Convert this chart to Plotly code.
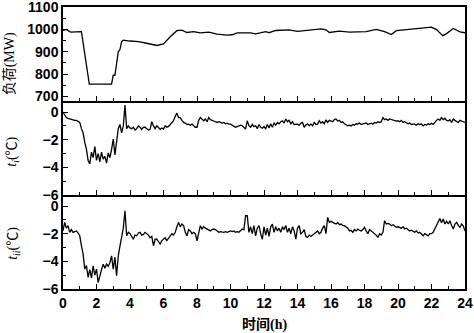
import plotly.graph_objects as go
from plotly.subplots import make_subplots

# ---------------- data ----------------
load_h = [0, 0.2, 0.45, 0.8, 1.1, 1.57, 2.0, 2.9, 3.0, 3.1, 3.3, 3.4, 3.5, 3.6, 4.0, 4.5,
          5.0, 5.3, 5.6, 6.0, 6.4, 6.8, 7.1, 7.4, 7.8, 8.2, 8.7, 9.2, 9.8, 10.1, 10.4,
          11.2, 11.5, 12.1, 12.3, 12.7, 13.5, 14.0, 14.5, 15.0, 15.4, 15.7, 15.9, 16.5,
          17.1, 18.1, 18.7, 19.2, 19.6, 19.9, 20.7, 21.5, 22.0, 22.3, 22.67, 22.9, 23.3,
          23.7, 24.0]
load_mw = [995, 1000, 988, 990, 990, 755, 755, 755, 795, 795, 900, 910, 945, 952, 948, 945,
           938, 932, 928, 935, 967, 994, 997, 986, 990, 984, 988, 979, 974, 976, 984,
           984, 980, 990, 985, 995, 998, 991, 995, 999, 1002, 998, 986, 992,
           988, 990, 1000, 990, 977, 994, 1000, 1006, 1010, 999, 972, 981, 1004,
           989, 985]

t_hours = [i / 10 for i in range(241)]

t_i = [
    0.0, -0.2, -0.4, -0.45, -0.5, -0.55, -0.55, -0.6, -0.6, -0.65,
    -0.75, -1.2, -1.5, -2.2, -2.7, -3.5, -3.75, -2.9, -3.3, -2.5,
    -3.5, -3.0, -3.6, -2.9, -3.4, -3.2, -3.7, -2.95, -3.3, -2.7,
    -1.95, -3.1, -2.2, -1.2, -0.9, -1.5, -1.0, 0.5, -1.2, -1.0,
    -1.15, -1.2, -1.1, -1.3, -1.2, -1.0, -1.1, -1.25, -1.1, -1.1,
    -1.2, -1.3, -1.25, -0.7, -1.0, -1.2, -0.99, -1.1, -1.25, -1.15,
    -1.23, -1.0, -1.1, -1.04, -0.9, -0.75, -0.63, -0.3, -0.08, -0.4,
    -0.4, -0.6, -0.75, -0.8, -0.9, -0.87, -0.95, -0.87, -1.0, -1.1,
    -1.1, -0.6, -0.4, -0.55, -0.63, -0.5, -0.7, -0.4, -0.55, -0.6,
    -0.63, -0.7, -0.75, -0.7, -0.75, -0.8, -0.75, -0.85, -0.8, -0.87,
    -0.87, -0.95, -1.0, -1.1, -1.05, -1.0, -0.95, -0.99, -1.1, -1.23,
    -0.63, -0.99, -1.1, -0.9, -1.05, -0.99, -1.2, -0.9, -1.1, -1.17,
    -1.05, -1.2, -0.9, -1.15, -0.85, -1.1, -0.8, -0.95, -0.75, -0.85,
    -0.7, -0.63, -0.8, -0.5, -0.7, -0.6, -0.85, -0.7, -0.9, -0.87,
    -0.87, -0.95, -0.8, -0.75, -1.1, -0.94, -0.85, -0.99, -0.87, -0.99,
    -0.75, -0.9, -0.87, -0.63, -0.8, -0.7, -0.85, -0.56, -0.75, -0.6,
    -0.63, -0.7, -0.55, -0.5, -0.65, -0.6, -0.75, -0.7, -0.85, -0.9,
    -0.99, -0.95, -1.0, -0.9, -0.95, -0.85, -0.87, -0.8, -0.9, -0.85,
    -0.8, -0.79, -0.9, -0.85, -0.8, -0.87, -0.75, -0.8, -0.7, -0.75,
    -0.7, -0.4, -0.55, -0.5, -0.6, -0.5, -0.55, -0.56, -0.6, -0.65,
    -0.63, -0.7, -0.6, -0.75, -0.7, -0.75, -0.85, -0.8, -0.9, -0.87,
    -0.87, -0.95, -0.85, -0.9, -0.87, -1.0, -0.9, -0.94, -0.85, -0.9,
    -0.82, -0.9, -0.7, -0.6, -0.5, -0.6, -0.4, -0.55, -0.45, -0.6,
    -0.63, -0.55, -0.75, -0.5, -0.6, -0.7, -0.75, -0.6, -0.63, -0.7,
    -0.75,
]

t_ii = [
    -1.79, -1.18, -1.6, -1.42, -1.9, -1.7, -1.9, -1.85, -1.8, -1.95,
    -2.15, -2.87, -3.48, -4.56, -4.3, -5.16, -4.6, -5.2, -4.32, -5.0,
    -4.56, -5.53, -5.0, -4.6, -4.2, -4.5, -4.2, -4.35, -4.1, -3.6,
    -4.56, -3.7, -5.04, -3.6, -2.9, -2.2, -1.6, -0.34, -2.15, -1.9,
    -2.0, -2.2, -2.4, -2.1, -2.15, -1.95, -1.9, -2.1, -2.05, -1.9,
    -2.0, -2.1, -2.3, -2.2, -2.87, -2.4, -2.4, -2.6, -2.75, -2.5,
    -2.4, -2.3, -2.5, -2.3, -2.15, -2.0, -2.1, -1.9, -1.5, -1.18,
    -1.5, -1.3, -1.42, -1.9, -2.15, -1.7, -1.8, -2.0, -1.9, -2.0,
    -2.51, -1.9, -1.42, -1.66, -1.5, -1.6, -1.66, -1.75, -1.8, -1.7,
    -1.66, -1.7, -1.8, -1.9, -1.85, -1.9, -1.9, -1.85, -1.9, -1.85,
    -1.8, -1.85, -1.8, -1.9, -1.85, -1.9, -1.75, -1.66, -1.7, -0.7,
    -0.7, -1.9, -1.5, -2.0, -1.42, -2.15, -1.6, -1.42, -2.0, -2.4,
    -1.5, -2.1, -1.6, -2.2, -1.5, -1.3, -1.9, -1.5, -1.8, -1.6,
    -1.9, -1.5, -1.7, -1.4, -1.9, -1.6, -2.0, -1.5, -1.8, -2.4,
    -1.6, -1.42, -2.0, -1.9, -1.7, -2.2, -2.27, -2.1, -2.2, -2.1,
    -2.0, -1.9, -1.8, -2.0, -1.9, -1.6, -1.42, -2.0, -0.82, -1.18,
    -1.1, -1.18, -1.25, -1.3, -1.2, -1.35, -1.3, -1.4, -1.42, -1.5,
    -1.6, -1.8, -1.75, -1.9, -1.7, -1.8, -1.66, -1.75, -1.8, -1.7,
    -1.54, -1.8, -2.0, -1.7, -1.8, -1.9, -1.95, -2.1, -2.27, -2.0,
    -2.1, -1.9, -1.06, -1.3, -1.25, -1.3, -1.42, -1.35, -1.45, -1.54,
    -1.5, -1.55, -1.6, -1.5, -1.66, -1.6, -1.7, -1.8, -1.75, -1.85,
    -1.9, -1.8, -1.95, -1.9, -2.0, -2.15, -2.0, -2.1, -2.15, -2.0,
    -2.0, -1.9, -1.66, -1.4, -1.06, -0.9, -1.2, -0.94, -1.3, -1.1,
    -1.3, -1.06, -1.4, -1.66, -1.3, -1.18, -1.4, -1.54, -1.3, -1.45,
    -1.8,
]

x_ticks = [0, 2, 4, 6, 8, 10, 12, 14, 16, 18, 20, 22, 24]
load_ticks = [700, 800, 900, 1000, 1100]
temp_ticks = [0, -2, -4, -6]

# ---------------- figure ----------------
fig = make_subplots(rows=3, cols=1, shared_xaxes=True, vertical_spacing=0)

line = dict(color="black", width=1.3)
fig.add_trace(go.Scatter(x=load_h, y=load_mw, mode="lines", line=line), row=1, col=1)
fig.add_trace(go.Scatter(x=t_hours, y=t_i, mode="lines", line=line), row=2, col=1)
fig.add_trace(go.Scatter(x=t_hours, y=t_ii, mode="lines", line=line), row=3, col=1)

tick_font = dict(family="Liberation Sans, Arial, sans-serif", size=14, color="black",
                 weight="bold")
common = dict(showline=True, linecolor="black", linewidth=1.5,
              ticks="inside", ticklen=5, tickwidth=1.3, tickcolor="black",
              showgrid=False, zeroline=False, tickfont=tick_font, automargin=False,
              ticklabeloverflow="allow")

for r in (1, 2, 3):
    fig.update_xaxes(range=[0, 24], tickvals=x_ticks,
                     showticklabels=(r == 3), mirror=(r == 1),
                     minor=dict(dtick=1, ticks="inside", ticklen=3, tickcolor="black",
                                tickwidth=1.2, tick0=0),
                     row=r, col=1, **common)

fig.update_yaxes(range=[680, 1100], tickvals=load_ticks, mirror=True,
                 minor=dict(dtick=50, tick0=0, ticks="inside", ticklen=3,
                            tickcolor="black", tickwidth=1.2),
                 row=1, col=1, **common)
for r in (2, 3):
    fig.update_yaxes(range=[-6, 0.8], tickvals=temp_ticks, mirror=True,
                     minor=dict(dtick=1, tick0=0, ticks="inside", ticklen=3,
                                tickcolor="black", tickwidth=1.2),
                     row=r, col=1, **common)

fig.update_layout(
    yaxis=dict(domain=[2 / 3, 1.0]),
    yaxis2=dict(domain=[1 / 3, 2 / 3]),
    yaxis3=dict(domain=[0.0, 1 / 3]),
)

title_font = dict(family="Liberation Serif, Times New Roman, Noto Sans CJK SC, serif",
                  size=14, color="black")
fig.add_annotation(text="负荷(MW)", x=-0.132, y=0.8, xref="paper", yref="paper",
                   textangle=-90, showarrow=False, font=title_font,
                   xanchor="center", yanchor="middle")
fig.add_annotation(text="<i>t</i><sub><i>i</i></sub>(℃)", x=-0.125, y=0.486,
                   xref="paper", yref="paper", textangle=-90, showarrow=False,
                   font=title_font, xanchor="center", yanchor="middle")
fig.add_annotation(text="<i>t</i><sub><i>ii</i></sub>(℃)", x=-0.125, y=0.163,
                   xref="paper", yref="paper", textangle=-90, showarrow=False,
                   font=title_font, xanchor="center", yanchor="middle")
fig.add_annotation(text="<b>时间(h)</b>", x=0.5, y=-0.128, xref="paper", yref="paper",
                   showarrow=False, font=title_font, xanchor="center", yanchor="middle")

fig.update_layout(
    width=474, height=333,
    margin=dict(l=63, r=9, t=7, b=44, autoexpand=False),
    paper_bgcolor="white", plot_bgcolor="white",
    showlegend=False,
)

fig.write_html("out.html", config={"displayModeBar": False},
               post_script="document.body.style.margin='0';document.body.style.overflow='hidden';")
